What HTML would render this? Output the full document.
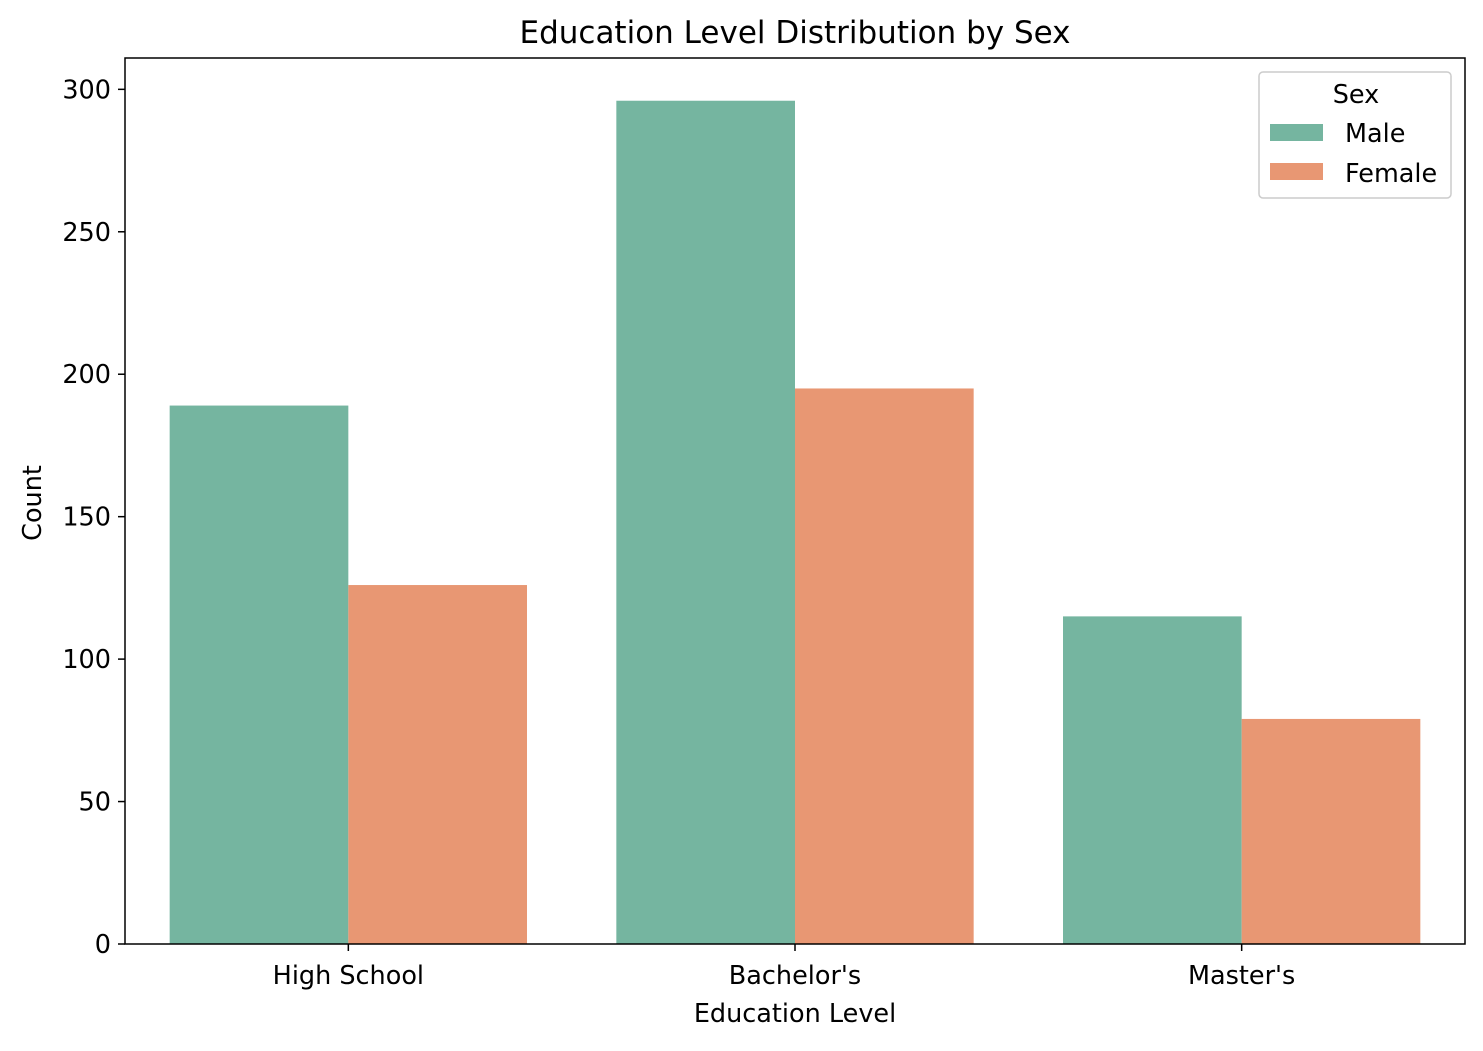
<!DOCTYPE html>
<html><head><meta charset="utf-8"><style>
body{margin:0;background:#fff;}
svg text{font-family:"DejaVu Sans","Liberation Sans",sans-serif;fill:#000;}
</style></head><body>
<svg id="chart" width="1483" height="1046" viewBox="0 0 1483 1046">
<text x="795" y="43" font-size="31" text-anchor="middle">Education Level Distribution by Sex</text>
<g id="bars"></g>
<g id="axes"></g>
<text x="795" y="1022" font-size="25.5" text-anchor="middle">Education Level</text>
<text transform="translate(41,503) rotate(-90)" font-size="25.5" text-anchor="middle">Count</text>
<g>
<rect x="1259" y="72" width="192" height="126" rx="4" fill="#fff" stroke="#ccc" stroke-width="1.5"/>
<text x="1356" y="103" font-size="25.5" text-anchor="middle">Sex</text>
<g><rect x="1270" y="124" width="53" height="17" fill="#75b5a0"/><text x="1345" y="142" font-size="25.5">Male</text></g>
<g><rect x="1270" y="163" width="53" height="17" fill="#e89773"/><text x="1345" y="182" font-size="25.5">Female</text></g>
</g>
</svg>
<script>
const categories=["High School","Bachelor's","Master's"];
const maleValues=[189,296,115];
const femaleValues=[126,195,79];
const yTicks=[0,50,100,150,200,250,300];
const L=125,R=1465,T=58,B=944,ymax=311;
const ns="http://www.w3.org/2000/svg";
const step=(R-L)/categories.length;
const xc=i=>L+step*(i+0.5);
const y=v=>B-v*(B-T)/ymax;
const bw=step*0.4;
const bars=document.getElementById('bars'),axes=document.getElementById('axes');
function mk(tag,attrs,parent){const e=document.createElementNS(ns,tag);for(const k in attrs)e.setAttribute(k,attrs[k]);parent.appendChild(e);return e;}
categories.forEach((c,i)=>{
  const m=mk('rect',{x:xc(i)-bw,y:y(maleValues[i]),width:bw,height:B-y(maleValues[i]),fill:'#75b5a0'},bars);
  
  
  const f=mk('rect',{x:xc(i),y:y(femaleValues[i]),width:bw,height:B-y(femaleValues[i]),fill:'#e89773'},bars);
  
  
  mk('line',{x1:xc(i),x2:xc(i),y1:B,y2:B+7,stroke:'#000','stroke-width':1.5},axes);
  const t=mk('text',{x:xc(i),y:B+40,'font-size':25.5,'text-anchor':'middle'},axes);
  t.textContent=c;
  
  
});
yTicks.forEach(v=>{
  mk('line',{x1:L-7,x2:L,y1:y(v),y2:y(v),stroke:'#000','stroke-width':1.5},axes);
  const t=mk('text',{x:L-14,y:y(v)+9,'font-size':25.5,'text-anchor':'end'},axes);
  t.textContent=v;
  
  
});
const frame=mk('rect',{x:L,y:T,width:R-L,height:B-T,fill:'none',stroke:'#000','stroke-width':1.5},axes);


</script>
</body></html>
